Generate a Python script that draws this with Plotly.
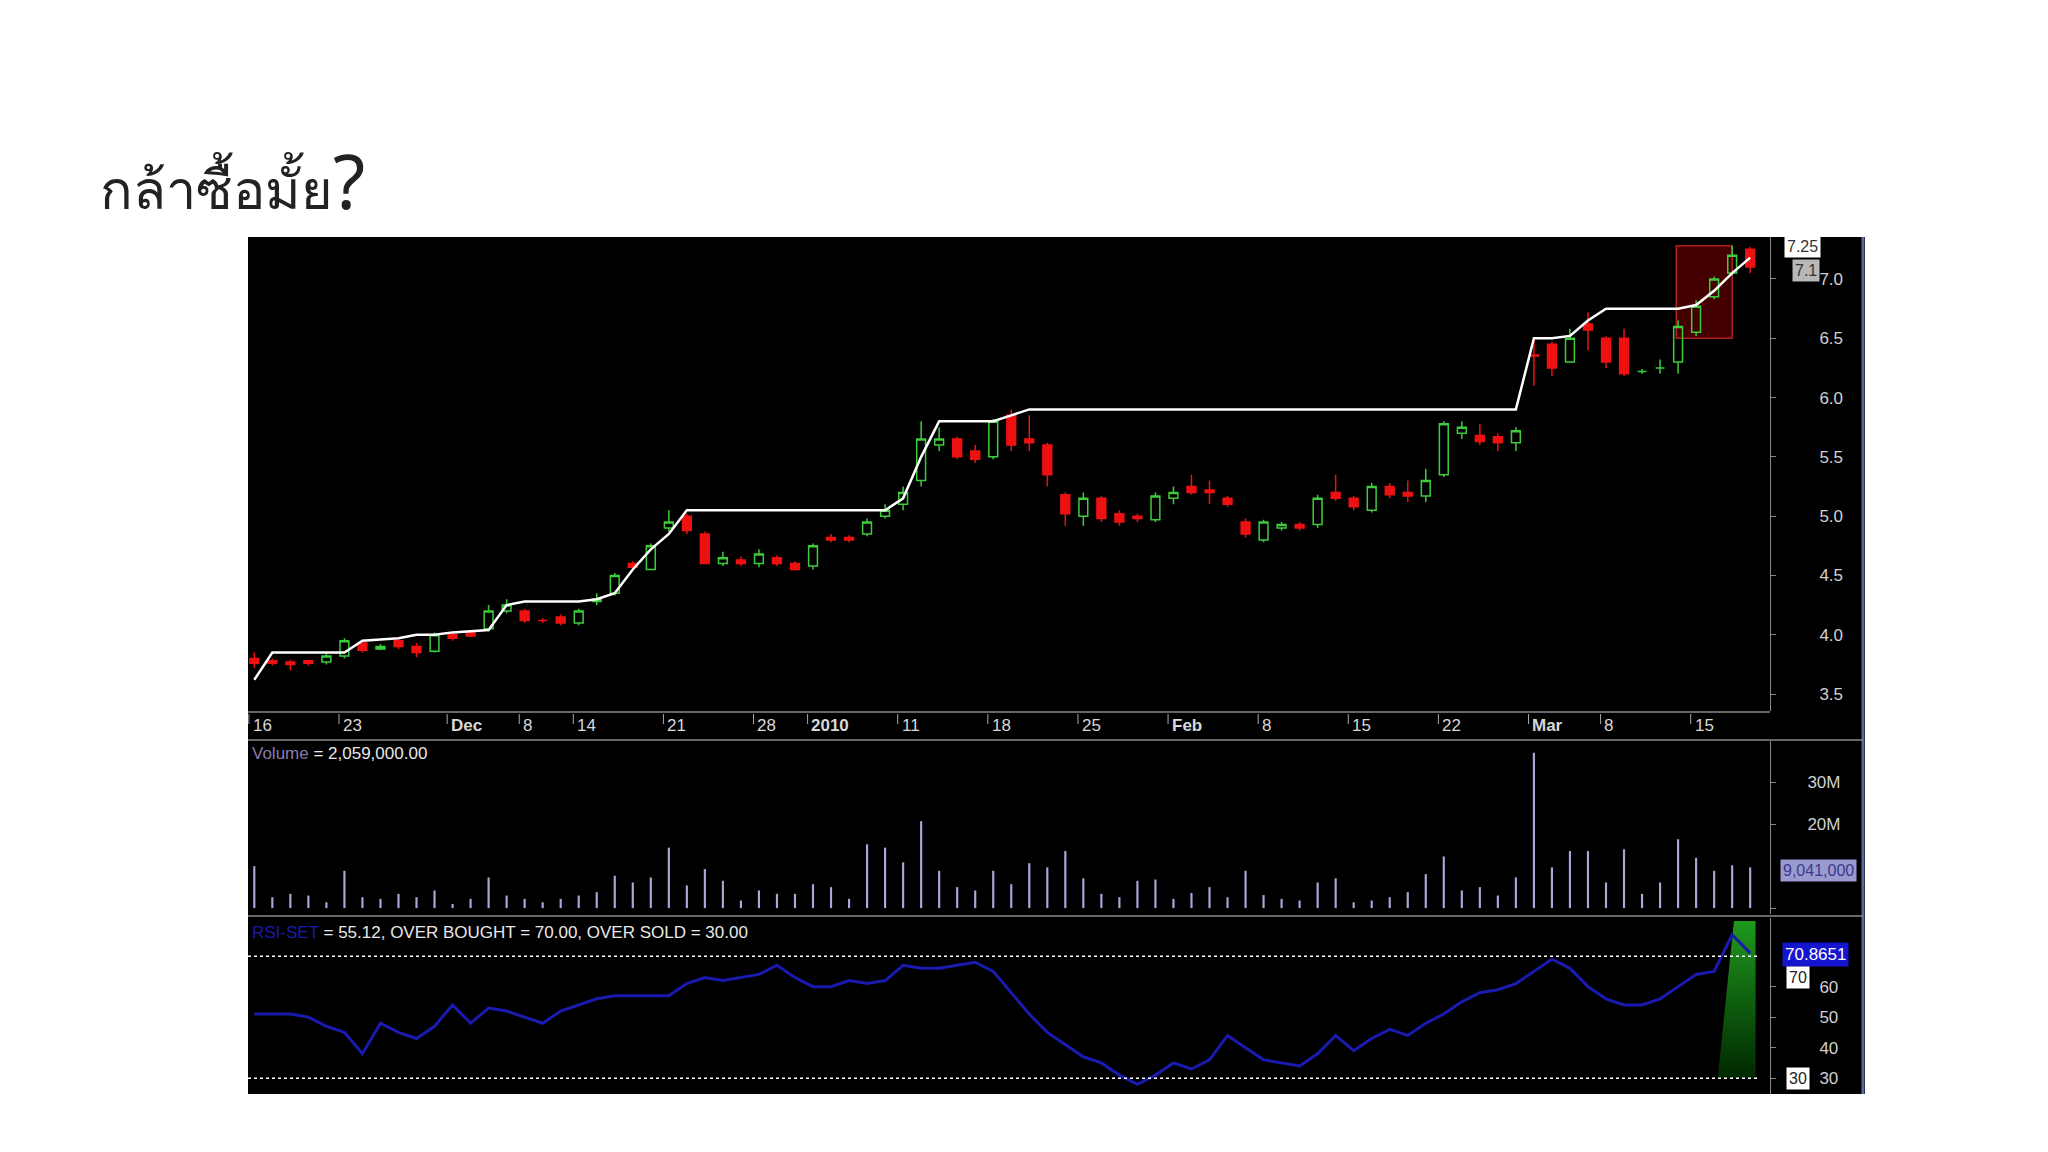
import plotly.graph_objects as go

opens  = [3.80,3.78,3.77,3.78,3.77,3.82,3.93,3.88,3.95,3.90,3.86,4.00,4.02,4.05,4.20,4.20,4.12,4.15,4.10,4.28,
          4.35,4.60,4.55,4.90,5.00,4.85,4.60,4.63,4.60,4.65,4.60,4.58,4.82,4.82,4.85,5.00,5.10,5.30,5.60,5.65,
          5.55,5.50,5.85,5.65,5.60,5.18,5.00,5.15,5.02,5.00,4.97,5.15,5.25,5.22,5.15,4.95,4.80,4.90,4.93,4.93,
          5.20,5.15,5.05,5.25,5.20,5.17,5.35,5.70,5.68,5.67,5.62,6.36,6.45,6.30,6.62,6.50,6.50,6.22,6.25,6.30,
          6.55,6.85,7.05,7.25]
closes = [3.76,3.76,3.75,3.76,3.82,3.95,3.87,3.90,3.90,3.85,4.00,3.97,3.99,4.20,4.25,4.12,4.12,4.10,4.20,4.30,
          4.50,4.57,4.75,4.95,4.88,4.60,4.65,4.60,4.68,4.60,4.55,4.75,4.80,4.80,4.95,5.05,5.20,5.65,5.65,5.50,
          5.48,5.80,5.60,5.62,5.35,5.02,5.15,4.98,4.95,4.98,5.17,5.20,5.20,5.20,5.10,4.85,4.95,4.93,4.90,5.15,
          5.15,5.08,5.25,5.18,5.17,5.30,5.78,5.75,5.63,5.62,5.72,6.35,6.25,6.50,6.57,6.30,6.20,6.22,6.25,6.60,
          6.77,7.00,7.20,7.10]
highs  = [3.85,3.80,3.79,3.79,3.85,3.97,3.96,3.92,3.97,3.93,4.02,4.02,4.04,4.25,4.30,4.22,4.14,4.17,4.22,4.35,
          4.52,4.62,4.77,5.05,5.02,4.87,4.70,4.66,4.72,4.67,4.62,4.77,4.85,4.84,4.98,5.10,5.25,5.80,5.75,5.67,
          5.60,5.82,5.90,5.85,5.62,5.20,5.20,5.17,5.05,5.02,5.20,5.25,5.35,5.30,5.17,4.98,4.97,4.95,4.95,5.18,
          5.35,5.17,5.28,5.28,5.30,5.40,5.80,5.80,5.78,5.70,5.75,6.50,6.47,6.58,6.72,6.52,6.58,6.24,6.32,6.65,
          6.82,7.02,7.28,7.27]
lows   = [3.72,3.74,3.70,3.74,3.75,3.80,3.85,3.87,3.88,3.81,3.85,3.95,3.98,4.03,4.18,4.10,4.10,4.08,4.08,4.25,
          4.33,4.55,4.55,4.87,4.85,4.60,4.58,4.58,4.57,4.58,4.54,4.55,4.78,4.78,4.83,4.98,5.05,5.25,5.55,5.48,
          5.45,5.48,5.55,5.55,5.25,4.92,4.92,4.95,4.92,4.95,4.95,5.10,5.18,5.10,5.08,4.82,4.78,4.88,4.88,4.90,
          5.13,5.05,5.03,5.15,5.12,5.12,5.33,5.65,5.60,5.55,5.55,6.10,6.18,6.30,6.40,6.25,6.18,6.20,6.20,6.20,
          6.52,6.83,7.03,7.05]
trail  = [3.62,3.85,3.85,3.85,3.85,3.85,3.95,3.96,3.97,4.00,4.00,4.02,4.03,4.04,4.25,4.28,4.28,4.28,4.28,4.30,
          4.35,4.55,4.72,4.85,5.05,5.05,5.05,5.05,5.05,5.05,5.05,5.05,5.05,5.05,5.05,5.05,5.15,5.50,5.80,5.80,
          5.80,5.80,5.85,5.90,5.90,5.90,5.90,5.90,5.90,5.90,5.90,5.90,5.90,5.90,5.90,5.90,5.90,5.90,5.90,5.90,
          5.90,5.90,5.90,5.90,5.90,5.90,5.90,5.90,5.90,5.90,5.90,6.50,6.50,6.52,6.65,6.75,6.75,6.75,6.75,6.75,
          6.78,6.90,7.05,7.18]
volume_m = [10,2.6,3.4,3,1.4,8.9,2.6,2.2,3.4,2.6,4.2,1,2.2,7.3,3,2.2,1.4,2.2,3,3.8,
            7.7,6.1,7.3,14.4,5.4,9.3,6.5,1.8,4.2,3.4,3.4,5.7,5,2.2,15.2,14.4,10.9,20.7,8.9,5,
            4.2,8.9,5.7,10.7,9.7,13.6,7.1,3.4,2.6,6.5,6.8,2.2,3.6,5,2.6,8.9,3.1,2.2,1.8,6.1,
            7.1,1.4,1.8,2.6,3.8,8.1,12.3,4.2,5,3,7.3,37,9.7,13.6,13.6,6.1,14,3.4,6.1,16.4,
            12,8.9,10.2,9.7]
rsi = [51,51,51,50,47,45,38,48,45,43,47,54,48,53,52,50,48,52,54,56,
       57,57,57,57,61,63,62,63,64,67,63,60,60,62,61,62,67,66,66,67,
       68,65,58,51,45,41,37,35,31,28,31,35,33,36,44,40,36,35,34,38,
       44,39,43,46,44,48,51,55,58,59,61,65,69,66,60,56,54,54,56,60,
       64,65,77,71]
tick_pos = [0,5,11,15,18,23,28,31,36,41,46,51,56,61,66,71,75,80]
tick_txt = ["16","23","Dec","8","14","21","28","2010","11","18","25","Feb","8","15","22","Mar","8","15"]
bold_txt = {"Dec","2010","Feb","Mar"}
price_ticks = [3.5,4.0,4.5,5.0,5.5,6.0,6.5,7.0]
rsi_ticks = [30,40,50,60]

x = list(range(len(closes)))
vol = [v*1e6 for v in volume_m]
W, H = 2048, 1152
def px(v): return v/W
def py(v): return 1-v/H

XR = [-0.35, 84.1]
fig = go.Figure()
fig.add_trace(go.Candlestick(x=x, open=opens, high=highs, low=lows, close=closes,
    increasing=dict(line=dict(color="#3ccc3c", width=1.5), fillcolor="rgba(0,0,0,0)"),
    decreasing=dict(line=dict(color="#ee1111", width=1.5), fillcolor="#ee1111"),
    whiskerwidth=0, xaxis="x", yaxis="y", showlegend=False))
fig.add_trace(go.Scatter(x=x, y=trail, mode="lines", line=dict(color="white", width=2.5, shape="linear"),
    xaxis="x", yaxis="y", showlegend=False))
fig.add_trace(go.Bar(x=x, y=vol, width=0.12, marker=dict(color="#a8a8d8", line=dict(width=0)),
    xaxis="x2", yaxis="y2", showlegend=False))
fig.add_trace(go.Scatter(x=[81.2,82.1,83.3,83.3,81.2], y=[30,81.5,81.5,30,30], fill="toself", mode="none",
    fillgradient=dict(type="vertical", colorscale=[[0,"rgba(0,40,0,1)"],[1,"#1e9a1e"]]),
    xaxis="x3", yaxis="y3", showlegend=False))
fig.add_trace(go.Scatter(x=x, y=rsi, mode="lines", line=dict(color="#1a1ab0", width=3),
    xaxis="x3", yaxis="y3", showlegend=False))

ax = dict(range=XR, showgrid=False, zeroline=False, showticklabels=False, ticks="", fixedrange=True,
          domain=[px(240), px(1762)], rangeslider=dict(visible=False))
tf = dict(color="#d0d0d0", size=17, family="Liberation Sans")
fig.update_layout(
    width=W, height=H, margin=dict(l=0, r=0, t=0, b=0),
    paper_bgcolor="white", plot_bgcolor="black",
    xaxis=dict(**ax, anchor="y"), xaxis2=dict(**ax, anchor="y2"), xaxis3=dict(**ax, anchor="y3"),
    yaxis=dict(domain=[py(703), py(229)], range=[3.357, 7.354], side="right", tickvals=price_ticks,
               tickformat=".1f", ticks="outside", ticklen=5, tickcolor="#888", showgrid=False, zeroline=False,
               tickfont=tf, ticklabelstandoff=40, showline=True, linecolor="#888"),
    yaxis2=dict(domain=[py(906), py(733)], range=[-1.4e6, 39.8e6], side="right", tickvals=[0,20e6,30e6],
                ticktext=["","20M","30M"], ticks="outside", ticklen=5, tickcolor="#888", showgrid=False,
                zeroline=False, tickfont=tf, ticklabelstandoff=28, showline=True, linecolor="#888"),
    yaxis3=dict(domain=[py(1086), py(910)], range=[24.8, 82.5], side="right", tickvals=rsi_ticks,
                ticks="outside", ticklen=5, tickcolor="#888", showgrid=False, zeroline=False,
                tickfont=tf, ticklabelstandoff=40, showline=True, linecolor="#888"),
)
shapes = [
    dict(type="rect", xref="paper", yref="paper", x0=px(240), x1=px(1857), y0=py(1086), y1=py(229),
         fillcolor="black", line=dict(width=0), layer="below"),
    dict(type="line", xref="paper", yref="paper", x0=px(1855), x1=px(1855), y0=py(1086), y1=py(229),
         line=dict(color="#5a6a9a", width=3)),
    dict(type="line", xref="paper", yref="paper", x0=px(240), x1=px(1762), y0=py(704), y1=py(704),
         line=dict(color="#888", width=1.5)),
    dict(type="line", xref="paper", yref="paper", x0=px(240), x1=px(1855), y0=py(732), y1=py(732),
         line=dict(color="#888", width=1.5)),
    dict(type="line", xref="paper", yref="paper", x0=px(240), x1=px(1855), y0=py(908), y1=py(908),
         line=dict(color="#888", width=1.5)),
    dict(type="rect", xref="x", yref="y", x0=78.9, x1=82.0, y0=6.5, y1=7.28,
         fillcolor="rgba(150,0,0,0.45)", line=dict(color="#b02020", width=1.5), layer="below"),
    dict(type="line", xref="x3", yref="y3", x0=XR[0], x1=83.5, y0=70, y1=70,
         line=dict(color="white", width=1.5, dash="dot")),
    dict(type="line", xref="x3", yref="y3", x0=XR[0], x1=83.5, y0=30, y1=30,
         line=dict(color="white", width=1.5, dash="dot")),
]
ann = [dict(text="กล้าซื้อมั้ย<span style='font-size:74px'>?</span>", xref="paper", yref="paper", x=px(90), y=py(172),
            xanchor="left", yanchor="middle", showarrow=False,
            font=dict(size=54, color="#222", family="Noto Sans, DejaVu Sans, sans-serif"))]
for p, t in zip(tick_pos, tick_txt):
    shapes.append(dict(type="line", xref="x", yref="paper", x0=p-0.3, x1=p-0.3, y0=py(706), y1=py(716),
                       line=dict(color="#aaa", width=1)))
    lab = f"<b>{t}</b>" if t in bold_txt else t
    ann.append(dict(text=lab, xref="x", yref="paper", x=p-0.2, y=py(717), xanchor="left", yanchor="middle",
                    showarrow=False, font=dict(color="#d8d8d8", size=17, family="Liberation Sans")))
def box(text, xp, yp, bg, fc, size=16):
    return dict(text=text, xref="paper", yref="paper", x=px(xp), y=py(yp), xanchor="left", yanchor="middle",
                showarrow=False, bgcolor=bg, font=dict(color=fc, size=size, family="Liberation Sans"), borderpad=2)
ann += [
    box("7.25", 1776, 238, "white", "#333"),
    box("7.1", 1784, 262, "#b8b8b8", "#333"),
    box("9,041,000", 1772, 862, "#9a9ad0", "#3a3a8a"),
    box("70.8651", 1774, 946, "#1515d0", "white", 17),
    box("70", 1778, 969, "white", "#222"),
    box("30", 1778, 1070, "white", "#222"),
    dict(text="<span style='color:#8a7aaa'>Volume</span> = 2,059,000.00", xref="paper", yref="paper",
         x=px(242), y=py(745), xanchor="left", yanchor="middle", showarrow=False,
         font=dict(color="#e8e8e8", size=17, family="Liberation Sans")),
    dict(text="<span style='color:#1a1ab0'>RSI-SET</span> = 55.12, OVER BOUGHT = 70.00, OVER SOLD = 30.00",
         xref="paper", yref="paper", x=px(242), y=py(924), xanchor="left", yanchor="middle", showarrow=False,
         font=dict(color="#e8e8e8", size=17, family="Liberation Sans")),
]
fig.update_layout(shapes=shapes, annotations=ann)
fig.write_html("out.html")
